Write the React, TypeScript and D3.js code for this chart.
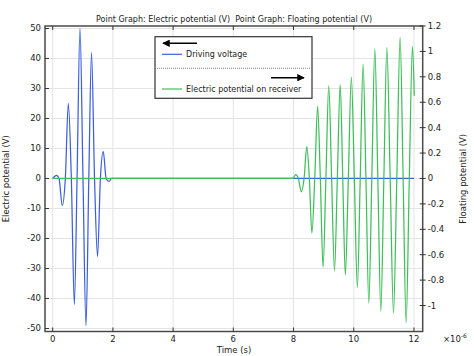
import React from "react";
import * as d3 from "d3";

// Time in units of 1e-6 s
const blueTime = [0, 0.13, 0.21, 0.32, 0.42, 0.52, 0.62, 0.72, 0.81, 0.907, 1.007, 1.107, 1.2, 1.29, 1.39, 1.49, 1.585, 1.68, 1.775, 1.87, 1.96, 12.0];
const blueValue = [0, 1, 0, -9, 0, 25, 0, -42, 0, 50, 0, -49, 0, 42, 0, -26, 0, 9, 0, -1, 0, 0];

const greenTime = [0, 7.98, 8.07, 8.16, 8.26, 8.35, 8.44, 8.525, 8.61, 8.705, 8.8, 8.89, 8.98, 9.075, 9.17, 9.265, 9.36, 9.455, 9.55, 9.635, 9.72, 9.82, 9.92, 10.02, 10.12, 10.215, 10.31, 10.405, 10.5, 10.6, 10.7, 10.8, 10.9, 11.0, 11.1, 11.21, 11.32, 11.43, 11.54, 11.64, 11.74, 11.845, 11.95, 12.01];
const greenValue = [0, 0, 0.03, 0, -0.105, 0, 0.25, 0, -0.43, 0, 0.57, 0, -0.7, 0, 0.73, 0, -0.73, 0, 0.74, 0, -0.76, 0, 0.8, 0, -0.86, 0, 0.9, 0, -0.98, 0, 1.02, 0, -1.045, 0, 1.03, 0, -1.06, 0, 1.11, 0, -1.135, 0, 1.04, 0.65];

const xTicks = [0, 2, 4, 6, 8, 10, 12];
const leftTicks = [-50, -40, -30, -20, -10, 0, 10, 20, 30, 40, 50];
const rightTicks = [-1, -0.8, -0.6, -0.4, -0.2, 0, 0.2, 0.4, 0.6, 0.8, 1, 1.2];

const titleText = "Point Graph: Electric potential (V)  Point Graph: Floating potential (V)";
const legendLabels = ["Driving voltage", "Electric potential on receiver"];

const W = 474;
const H = 356;
const L = 45, R = 422.7, T = 26, B = 331.5;
const FONT = "DejaVu Sans, sans-serif";
const BLUE = "#3d5fdc";
const GREEN = "#3fbf5a";

export default function App() {
  const x = d3.scaleLinear().domain([-0.255, 12.29]).range([L, R]);
  const yL = d3.scaleLinear().domain([-51, 50.83]).range([B, T]);
  const yR = d3.scaleLinear().domain([-1.2045, 1.2]).range([B, T]);

  const blueLine = d3
    .line<number>()
    .x((_, i) => x(blueTime[i]))
    .y((d) => yL(d))
    .curve(d3.curveMonotoneX)(blueValue) as string;
  const greenLine = d3
    .line<number>()
    .x((_, i) => x(greenTime[i]))
    .y((d) => yR(d))
    .curve(d3.curveMonotoneX)(greenValue) as string;

  const fmtR = (v: number) => (Math.abs(v) < 1e-9 ? "0" : String(+v.toFixed(1)));

  return (
    <svg width={W} height={H} style={{ position: "absolute", left: 0, top: 0, background: "#fff" }}>
      <defs>
        <clipPath id="plotclip">
          <rect x={L} y={T} width={R - L} height={B - T} />
        </clipPath>
        <marker id="ah" viewBox="0 0 10 10" refX="9" refY="5" markerWidth="5" markerHeight="5" orient="auto">
          <path d="M0,0 L10,5 L0,10 z" fill="#000" />
        </marker>
      </defs>
      <rect x={0} y={0} width={W} height={H} fill="#fff" />
      {/* grid */}
      {xTicks.map((t) => (
        <line key={"gx" + t} x1={x(t)} x2={x(t)} y1={T} y2={B} stroke="#e4e4e4" strokeWidth={1} />
      ))}
      {leftTicks.map((t) => (
        <line key={"gy" + t} x1={L} x2={R} y1={yL(t)} y2={yL(t)} stroke="#e4e4e4" strokeWidth={1} />
      ))}
      {/* data */}
      <g clipPath="url(#plotclip)">
        <path d={blueLine} fill="none" stroke={BLUE} strokeWidth={1.25} />
        <path d={greenLine} fill="none" stroke={GREEN} strokeWidth={1.25} />
      </g>
      {/* frame */}
      <rect x={L} y={T} width={R - L} height={B - T} fill="none" stroke="#4a4a4a" strokeWidth={1.5} />
      {/* x ticks */}
      {xTicks.map((t) => (
        <g key={"xt" + t}>
          <line x1={x(t)} x2={x(t)} y1={B} y2={B - 4} stroke="#333" strokeWidth={1} />
          <line x1={x(t)} x2={x(t)} y1={T} y2={T + 4} stroke="#333" strokeWidth={1} />
          <text x={x(t)} y={342} fontSize={8.5} fontFamily={FONT} textAnchor="middle" fill="#222">
            {t}
          </text>
        </g>
      ))}
      {/* left ticks */}
      {leftTicks.map((t) => (
        <g key={"lt" + t}>
          <line x1={L} x2={L + 4} y1={yL(t)} y2={yL(t)} stroke="#333" strokeWidth={1} />
          <text x={41} y={yL(t) + 3} fontSize={8.5} fontFamily={FONT} textAnchor="end" fill="#222">
            {t}
          </text>
        </g>
      ))}
      {/* right ticks */}
      {rightTicks.map((t) => (
        <g key={"rt" + t}>
          <line x1={R - 3} x2={R + 3} y1={yR(t)} y2={yR(t)} stroke="#333" strokeWidth={1} />
          <text x={R + 5} y={yR(t) + 3} fontSize={8.5} fontFamily={FONT} textAnchor="start" fill="#222">
            {fmtR(t)}
          </text>
        </g>
      ))}
      {/* title */}
      <text x={234} y={22} fontSize={8} fontFamily={FONT} textAnchor="middle" fill="#222" style={{ whiteSpace: "pre" }}>
        {titleText}
      </text>
      {/* axis labels */}
      <text x={234} y={353} fontSize={8.5} fontFamily={FONT} textAnchor="middle" fill="#222">
        Time (s)
      </text>
      <text x={443} y={342} fontSize={8.5} fontFamily={FONT} textAnchor="start" fill="#222">
        ×10
        <tspan dy={-4} fontSize={6}>-6</tspan>
      </text>
      <text transform={`translate(9,${(T + B) / 2}) rotate(-90)`} fontSize={8.5} fontFamily={FONT} textAnchor="middle" fill="#222">
        Electric potential (V)
      </text>
      <text transform={`translate(466,${(T + B) / 2}) rotate(-90)`} fontSize={8.5} fontFamily={FONT} textAnchor="middle" fill="#222">
        Floating potential (V)
      </text>
      {/* legend */}
      <g>
        <rect x={155} y={36.7} width={157} height={61.6} fill="#fff" stroke="#333" strokeWidth={1.2} />
        <line x1={197} x2={163} y1={43.3} y2={43.3} stroke="#000" strokeWidth={1.5} markerEnd="url(#ah)" />
        <line x1={162} x2={182} y1={54.3} y2={54.3} stroke={BLUE} strokeWidth={1.2} />
        <text x={186} y={57.3} fontSize={8} fontFamily={FONT} fill="#222">
          {legendLabels[0]}
        </text>
        <line x1={155} x2={312} y1={68.3} y2={68.3} stroke="#888" strokeWidth={1} strokeDasharray="1,1" />
        <line x1={271} x2={304} y1={77.7} y2={77.7} stroke="#000" strokeWidth={1.5} markerEnd="url(#ah)" />
        <line x1={162} x2={182} y1={89} y2={89} stroke={GREEN} strokeWidth={1.2} />
        <text x={186} y={92} fontSize={8} fontFamily={FONT} fill="#222">
          {legendLabels[1]}
        </text>
      </g>
    </svg>
  );
}
